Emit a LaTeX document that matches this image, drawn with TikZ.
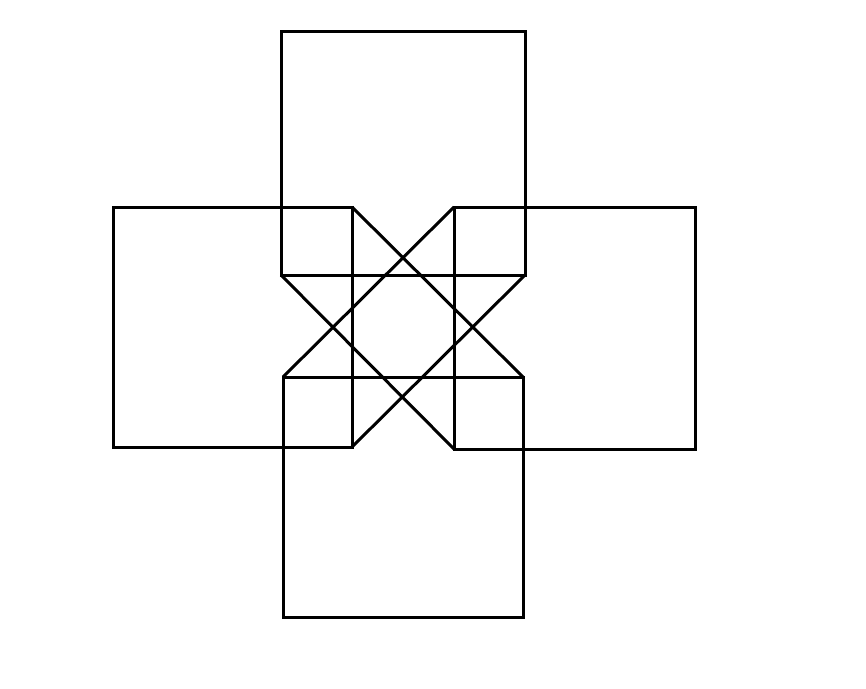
\documentclass[tikz,border=0pt]{standalone}
\begin{document}
\begin{tikzpicture}[x=1pt,y=-1pt,line width=3pt,line join=miter,
  edge/.style={draw=black,line width=3pt}]
\useasboundingbox[fill=white] (0,0) rectangle (866,688);
% squares
\coordinate (T1) at (281,31);  \coordinate (T2) at (525,275);
\coordinate (L1) at (113,207); \coordinate (L2) at (352,447);
\coordinate (R1) at (454,207); \coordinate (R2) at (695,449);
\coordinate (B1) at (283,377); \coordinate (B2) at (523,617);
\draw[edge] (T1) rectangle (T2);
\draw[edge] (L1) rectangle (L2);
\draw[edge] (R1) rectangle (R2);
\draw[edge] (B1) rectangle (B2);
% diagonals
\coordinate (d1) at (352,207); \coordinate (d2) at (523,377);
\coordinate (d3) at (454,207); \coordinate (d4) at (283,377);
\coordinate (d5) at (281,275); \coordinate (d6) at (454,449);
\coordinate (d7) at (525,275); \coordinate (d8) at (352,447);
\draw[edge] (d1) -- (d2);
\draw[edge] (d3) -- (d4);
\draw[edge] (d5) -- (d6);
\draw[edge] (d7) -- (d8);
\end{tikzpicture}
\end{document}
